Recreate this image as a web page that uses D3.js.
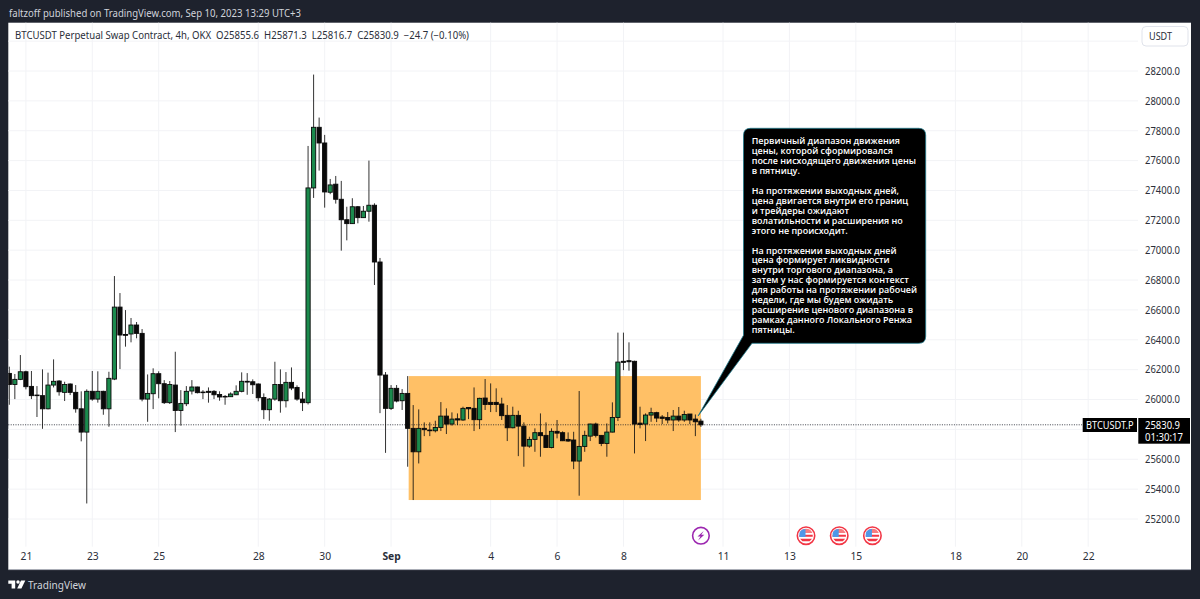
<!DOCTYPE html>
<html><head><meta charset="utf-8">
<script src="https://cdn.jsdelivr.net/npm/d3@7/dist/d3.min.js"></script>
<style>html,body{margin:0;padding:0;background:#1e222d;overflow:hidden}svg{display:block}text{font-family:"Noto Sans",sans-serif}</style>
</head><body><svg id="c" width="1200" height="599"></svg>
<script>
const candles = [
[26175,26220,25965,26101],[26101,26171,26003,26135],[26135,26298,26130,26186],[26186,26193,26068,26086],[26088,26191,26003,26026],
[26030,26090,25883,26026],[26026,26202,25804,25938],[25938,26180,25934,26097],[26097,26269,26081,26122],[26124,26130,26026,26052],
[26048,26119,25990,26101],[26104,26108,26030,26048],[26048,26097,25912,25938],[25938,26055,25720,25782],[25782,26068,25304,26055],
[26055,26191,25992,26003],[26003,26189,25979,26055],[26055,26059,25898,25938],[25938,26186,25818,26142],[26137,26827,26130,26619],
[26619,26713,26204,26432],[26436,26599,26354,26430],[26439,26546,26383,26499],[26499,26519,26410,26443],[26443,26472,25988,26003],
[26003,26168,25851,26041],[26039,26209,25936,26173],[26173,26189,26008,26106],[26106,26130,25970,25979],[25979,26124,25970,26101],
[26097,26320,25782,25927],[25927,26063,25825,25974],[25972,26090,25956,26055],[26057,26130,26034,26084],[26084,26086,26041,26046],
[26050,26063,26003,26048],[26055,26081,25979,26048],[26055,26063,26003,26032],[26034,26055,25992,26017],[26021,26030,25965,26017],
[26019,26048,26019,26037],[26032,26095,26030,26055],[26055,26182,26048,26122],[26122,26177,26032,26117],[26119,26135,26037,26099],
[26104,26108,25988,26012],[26014,26041,25869,25932],[25932,26010,25858,26003],[26003,26253,25992,26101],[26101,26202,25912,25992],
[25992,26184,25947,26115],[26115,26215,26063,26077],[26081,26095,25992,26003],[26003,26050,25923,25979],[25979,27698,25967,27417],
[27417,28176,27350,27823],[27823,27888,27533,27718],[27718,27772,27285,27390],[27388,27477,27375,27437],[27442,27497,27312,27341],
[27341,27464,26997,27204],[27204,27291,27066,27178],[27178,27348,27176,27291],[27291,27296,27180,27218],[27218,27296,27218,27261],
[27261,27600,27191,27301],[27301,27314,26767,26921],[26921,26948,25909,26164],[26164,26184,25643,25941],[25941,26097,25930,26075],
[26075,26097,25981,25990],[25992,26070,25930,26041],[26041,26157,25550,25807],[25807,25963,25327,25650],[25650,25934,25572,25807],
[25807,25847,25755,25798],[25796,25847,25755,25791],[25791,25858,25780,25813],[25813,25983,25789,25889],[25889,25941,25769,25836],
[25836,25914,25825,25869],[25871,25907,25829,25863],[25863,25952,25858,25941],[25947,25947,25869,25938],[25941,26081,25789,25865],
[25865,26012,25802,26008],[26010,26137,25930,25967],[25981,26108,25916,25967],[25981,26075,25916,25967],[25970,26012,25863,25892],
[25894,25963,25722,25811],[25811,25952,25807,25894],[25894,25925,25621,25822],[25822,25847,25550,25688],[25688,25751,25677,25733],
[25733,25807,25650,25778],[25778,25907,25617,25758],[25760,25847,25677,25679],[25679,25807,25673,25787],[25787,25863,25740,25775],
[25778,25787,25722,25724],[25733,25780,25717,25722],[25729,25784,25534,25588],[25588,26057,25356,25686],[25686,25791,25650,25760],
[25755,25838,25722,25836],[25836,25845,25746,25760],[25760,25762,25688,25706],[25706,25840,25617,25782],[25782,25981,25780,25880],
[25880,26448,25856,26251],[26256,26448,26197,26249],[26260,26383,26193,26253],[26256,26260,25639,25836],[25842,25952,25807,25833],
[25836,25907,25722,25896],[25896,25945,25851,25912],[25912,25918,25849,25876],[25883,25896,25836,25874],[25880,25916,25840,25863],
[25863,25930,25789,25889],[25889,25950,25851,25863],[25863,25925,25851,25900],[25903,25903,25836,25863],[25869,25900,25755,25851],
[25855.6,25871.3,25816.7,25830.9]
];
const priceTicks = [28200,28000,27800,27600,27400,27200,27000,26800,26600,26400,26200,26000,25600,25400,25200];
const gridPrices = [28400,28200,28000,27800,27600,27400,27200,27000,26800,26600,26400,26200,26000,25800,25600,25400,25200];
const dayIndex = [3,15,27,45,57,69,87,99,111,129,141,153,171,183,195];
const dayLabels = ["21","23","25","28","30","Sep","4","6","8","11","13","15","18","20","22"];
const lastPrice = 25830.9;
const rangeTop = 26157, rangeBottom = 25327, rangeStart = 72, rangeEnd = 125;
const flagEvents = [144,150,156];
const boltEvents = [125];
const calloutLines = ["Первичный диапазон движения","цены, которой сформировался","после нисходящего движения цены","в пятницу.","",
"На протяжении выходных дней,","цена двигается внутри его границ","и трейдеры ожидают","волатильности и расширения но","этого не происходит.","",
"На протяжении выходных дней","цена формирует ликвидности","внутри торгового диапазона, а","затем у нас формируется контекст","для работы на протяжении рабочей","недели, где мы будем ожидать","расширение ценового диапазона в","рамках данного Локального Ренжа","пятницы."];

const svg = d3.select("#c");
const L=8.3,R=1191,T=22.7,B=569.3,gridB=546.7,gridR=1138;
const x = d3.scaleLinear().domain([0,195]).range([9.3,1088.2]);
const y = d3.scaleLinear().domain([25200,28200]).range([519,71]);

svg.append("rect").attr("x",L).attr("y",T).attr("width",R-L).attr("height",B-T).attr("fill","#fff");
svg.append("line").attr("x1",L).attr("x2",R).attr("y1",B+.3).attr("y2",B+.3).attr("stroke","#b2b5be");
svg.append("defs").append("clipPath").attr("id","plot").append("rect").attr("x",L).attr("y",T).attr("width",R-L).attr("height",gridB-T);

// grid
const grid = svg.append("g").attr("stroke","#f2f3f6").attr("stroke-width",1);
grid.selectAll(".h").data(gridPrices).join("line").attr("x1",L).attr("x2",gridR).attr("y1",d=>y(d)).attr("y2",d=>y(d));
grid.selectAll(".v").data(dayIndex).join("line").attr("y1",T).attr("y2",gridB).attr("x1",d=>x(d)).attr("x2",d=>x(d));

// range box
svg.append("rect").attr("x",x(rangeStart)+1).attr("width",x(rangeEnd)-x(rangeStart)-1)
 .attr("y",y(rangeTop)).attr("height",y(rangeBottom)-y(rangeTop)).attr("fill","#ffc066");

// price line
svg.append("line").attr("x1",L).attr("x2",1083).attr("y1",y(lastPrice)).attr("y2",y(lastPrice))
 .attr("stroke","#131722").attr("stroke-width",1).attr("stroke-dasharray","1 1.4").attr("opacity",.8);

// candles
const cg = svg.append("g").attr("clip-path","url(#plot)");
const bw = 4.2;
const gs = cg.selectAll("g").data(candles).join("g");
gs.append("line").attr("x1",(d,i)=>x(i)).attr("x2",(d,i)=>x(i)).attr("y1",d=>y(d[1])).attr("y2",d=>y(d[2]))
 .attr("stroke","#111").attr("stroke-width",1).attr("opacity",.85);
gs.append("rect").attr("x",(d,i)=>x(i)-bw/2).attr("width",bw)
 .attr("y",d=>y(Math.max(d[0],d[3]))).attr("height",d=>Math.max(.6,Math.abs(y(d[0])-y(d[3]))))
 .attr("fill",d=>d[3]>=d[0]?"#1b8a4d":"#0a0a0a").attr("stroke","#0a0a0a").attr("stroke-width",.9);

// callout
const bx0=743.5,bx1=925.7,by0=128.3,by1=343.3,r=7;
const tailTip=[x(124.5),y(25890)];
svg.append("path").attr("d",`M${bx0+r},${by0}H${bx1-r}Q${bx1},${by0} ${bx1},${by0+r}V${by1-r}Q${bx1},${by1} ${bx1-r},${by1}H752L${tailTip[0]},${tailTip[1]}L${bx0},${by1-8}V${by0+r}Q${bx0},${by0} ${bx0+r},${by0}Z`)
 .attr("fill","#000").attr("stroke","#1f7a8c").attr("stroke-width",.8);
svg.append("g").attr("transform","translate(751.7,0) scale(0.925,1)").selectAll("text").data(calloutLines).join("text")
 .attr("x",0).attr("y",(d,i)=>144.5+i*9.91).text(d=>d)
 .attr("fill","#fff").attr("font-size",9.7).style("font-family","'Open Sans'").style("font-weight",600);

// axes
const ya = d3.axisRight(y).tickValues(priceTicks).tickFormat(d3.format(".1f")).tickSize(0).tickPadding(0);
const yg = svg.append("g").attr("transform","translate(1145,0)").call(ya);
yg.select(".domain").remove();
yg.selectAll("text").attr("fill","#2a2e39").attr("font-size",10.4).attr("x",0).attr("textLength",35).attr("lengthAdjust","spacingAndGlyphs");
const xa = d3.axisBottom(x).tickValues(dayIndex).tickFormat((d,i)=>dayLabels[i]).tickSize(0).tickPadding(0);
const xg = svg.append("g").attr("transform","translate(0,552.5)").call(xa);
xg.select(".domain").remove();
xg.selectAll("text").attr("fill","#2a2e39").attr("font-size",10.3).attr("y",0).attr("dy","0.71em").style("font-family","'Noto Sans'").style("font-weight",(d,i)=>dayLabels[i]==="Sep"?"700":"400");

// events
const flag = svg.append("g").selectAll("g").data(flagEvents).join("g").attr("transform",d=>`translate(${x(d)},535.7)`);
flag.append("circle").attr("r",8.7).attr("fill","#fff").attr("stroke","#f23645").attr("stroke-width",1.6);
flag.append("path").attr("d","M-6.4,-2.6A6.9,6.9 0 0 1 6.4,-2.6H-6.4Z").attr("fill","#f77c80");
flag.append("path").attr("d","M-6.7,-1H6.7V1H-6.7Z M-6,3H6L3.6,5.6H-3.6Z").attr("fill","#f23645");
flag.append("path").attr("d","M-6.6,1.2V-2.6A6.9,6.9 0 0 1 -0.5,-6.7V1.2Z").attr("fill","#4f97e8");
const bolt = svg.append("g").selectAll("g").data(boltEvents).join("g").attr("transform",d=>`translate(${x(d)},535.7)`);
bolt.append("circle").attr("r",8.3).attr("fill","#fff").attr("stroke","#9c27b0").attr("stroke-width",1.6);
bolt.append("path").attr("d","M2.8,-4.8L-3.4,0.9H-0.4L-2.8,4.8L3.4,-0.9H0.4Z").attr("fill","#9c27b0");

// header
svg.append("text").attr("x",9).attr("y",17).text("faltzoff published on TradingView.com, Sep 10, 2023 13:29 UTC+3").attr("fill","#d1d4dc").attr("font-size",10.4).attr("textLength",292).attr("lengthAdjust","spacingAndGlyphs");
svg.append("text").attr("x",15).attr("y",38.8).text("BTCUSDT Perpetual Swap Contract, 4h, OKX  O25855.6  H25871.3  L25816.7  C25830.9  −24.7 (−0.10%)").attr("fill","#2a2e39").attr("font-size",10.2).style("white-space","pre").attr("textLength",454).attr("lengthAdjust","spacingAndGlyphs");

// unit button
svg.append("rect").attr("x",1142).attr("y",26.5).attr("width",46).attr("height",19.5).attr("rx",4).attr("fill","#fff").attr("stroke","#e0e3eb");
svg.append("text").attr("x",1149).attr("y",40).text("USDT").attr("fill","#2a2e39").attr("font-size",10.4).attr("textLength",23).attr("lengthAdjust","spacingAndGlyphs");

// last price labels
svg.append("rect").attr("x",1082.7).attr("y",418).attr("width",54.3).attr("height",14).attr("fill","#000");
svg.append("text").attr("x",1086).attr("y",429).text("BTCUSDT.P").attr("fill","#fff").attr("font-size",10.4).attr("textLength",47.5).attr("lengthAdjust","spacingAndGlyphs");
svg.append("rect").attr("x",1138.3).attr("y",418).attr("width",51.7).attr("height",25.7).attr("fill","#000");
svg.append("text").attr("x",1145).attr("y",429).text(d3.format(".1f")(lastPrice)).attr("fill","#fff").attr("font-size",10.4).attr("textLength",35).attr("lengthAdjust","spacingAndGlyphs");
svg.append("text").attr("x",1145).attr("y",441).text("01:30:17").attr("fill","#fff").attr("font-size",10.4).attr("textLength",38).attr("lengthAdjust","spacingAndGlyphs");

// logo
svg.append("path").attr("d","M8.3,580.4H15.2V588.5H11.6V583.7H8.3Z M21,580.4H25.3L21.4,588.5H17.2Z").attr("fill","#fff");
svg.append("circle").attr("cx",18).attr("cy",582).attr("r",1.7).attr("fill","#fff");
svg.append("text").attr("x",28).attr("y",588.6).text("TradingView").attr("fill","#d1d4dc").attr("font-size",11.2).attr("textLength",58).attr("lengthAdjust","spacingAndGlyphs");
</script></body></html>
